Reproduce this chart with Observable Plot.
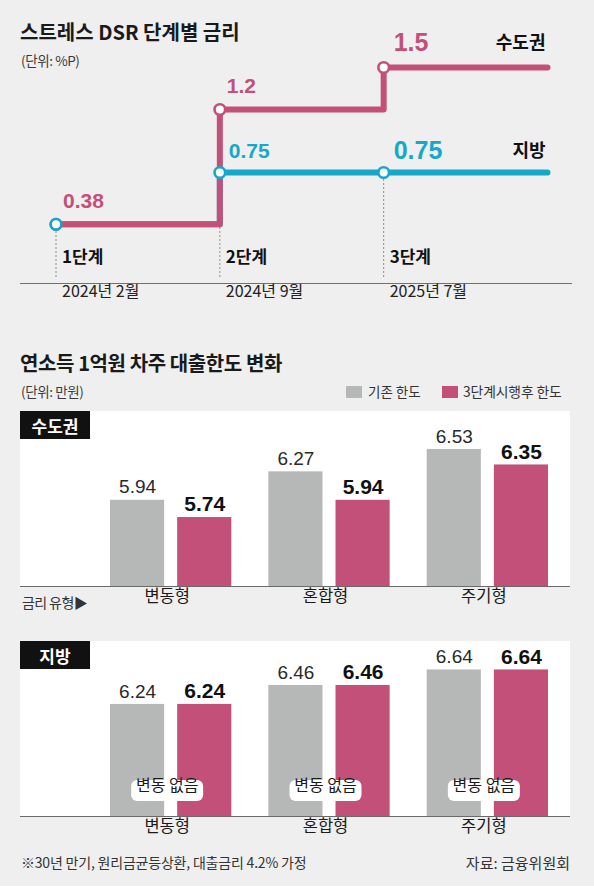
<!DOCTYPE html>
<html>
<head>
<meta charset="utf-8">
<script src="https://cdn.jsdelivr.net/npm/d3@7"></script>
<script src="https://cdn.jsdelivr.net/npm/@observablehq/plot@0.6"></script>
<style>
  body { margin: 0; background: #fff; }
  #root { position: relative; width: 594px; height: 886px; background: #efefef; overflow: hidden;
          font-family: "Noto Sans CJK KR", "Noto Sans", sans-serif; color: #1a1a1a; }
  .abs { position: absolute; }
  .mid { transform: translateY(-50%); line-height: 1; white-space: nowrap; }
  .title { font-weight: 700; font-size: 20px; }
  .unit { font-size: 13.5px; color: #3a3a3a; letter-spacing: -0.4px; }
  .panel { background: #fff; border-bottom: 1.5px solid #6a6a6a; }
  .tag { background: #111; color: #fff; font-weight: 700; font-size: 17px; display: flex;
         align-items: center; justify-content: center; line-height: 1; }
  .sw { width: 16px; height: 12px; }
  svg { position: absolute; left: 0; }
</style>
</head>
<body>
<div id="root"></div>
<script>
// ---------- data ----------
const stages = ["1단계", "2단계", "3단계"];
const stageDates = ["2024년 2월", "2024년 9월", "2025년 7월"];
const regions = ["수도권", "지방"];
const metroRate = [0.38, 1.2, 1.5];
const localRate = [0.38, 0.75, 0.75];

const loanTypes = ["변동형", "혼합형", "주기형"];
const seriesNames = ["기존 한도", "3단계시행후 한도"];
const metroBefore = [5.94, 6.27, 6.53];
const metroAfter = [5.74, 5.94, 6.35];
const localBefore = [6.24, 6.46, 6.64];
const localAfter = [6.24, 6.46, 6.64];
const localNote = ["변동 없음", "변동 없음", "변동 없음"];

const texts = {
  title1: "스트레스 DSR 단계별 금리",
  unit1: "(단위: %P)",
  title2: "연소득 1억원 차주 대출한도 변화",
  unit2: "(단위: 만원)",
  axisName: "금리 유형▶",
  note: "※30년 만기, 원리금균등상환, 대출금리 4.2% 가정",
  source: "자료: 금융위원회"
};

// ---------- styles ----------
const PINK = "#c35079", BLUE = "#15a8cb", GRAY = "#b6b7b7";
const NUM = '"Liberation Sans Narrow","Liberation Sans","Noto Sans CJK KR",sans-serif';
const KR = '"Noto Sans CJK KR","Noto Sans",sans-serif';

const root = document.getElementById("root");
function add(html, cls, css) {
  const el = document.createElement("div");
  el.className = "abs " + cls;
  el.innerHTML = html;
  Object.assign(el.style, css);
  root.appendChild(el);
  return el;
}

// ---------- step chart ----------
const stagePts = stages.map((s, i) => ({i, stage: s, date: stageDates[i], metro: metroRate[i], local: localRate[i]}));
const n = stages.length;
const metroLine = [...stagePts.map(d => ({x: d.i, v: d.metro})), {x: n, v: metroRate[n - 1]}];
const localLine = [...stagePts.map(d => ({x: d.i, v: d.local})), {x: n, v: localRate[n - 1]}];
const ends = [{name: regions[0], v: metroRate[n - 1], c: "m"}, {name: regions[1], v: localRate[n - 1], c: "l"}];

add(texts.title1, "mid title", {left: "20px", top: "32px"});
add(texts.unit1, "mid unit", {left: "21px", top: "61px"});
add("", "", {left: "20px", top: "283px", width: "552px", height: "1px", background: "#707070"});

const step = Plot.plot({
  width: 594, height: 312,
  marginTop: 0, marginBottom: 29, marginLeft: 0, marginRight: 0,
  x: {domain: [0, n], range: [55.5, 547], axis: null},
  y: {domain: [0, 1.5], range: [277, 67], axis: null},
  style: {background: "transparent", overflow: "visible", fontFamily: KR, color: "#1a1a1a"},
  marks: [
    Plot.ruleX(stagePts, {x: "i", y1: "local", stroke: "#8c8c8c", strokeWidth: 1, strokeDasharray: "2,2"}),
    Plot.line(localLine, {x: "x", y: "v", curve: "step-after", stroke: BLUE, strokeWidth: 6, strokeLinecap: "round"}),
    Plot.line(metroLine, {x: "x", y: "v", curve: "step-after", stroke: PINK, strokeWidth: 6, strokeLinecap: "round"}),
    Plot.dot(stagePts, {x: "i", y: "metro", r: 5.3, fill: "white", stroke: PINK, strokeWidth: 2.6}),
    Plot.dot(stagePts, {x: "i", y: "local", r: 5.3, fill: "white", stroke: BLUE, strokeWidth: 2.6}),
    // value labels
    Plot.text(stagePts, {filter: d => d.i < n - 1, x: "i", y: "metro", text: d => String(d.metro),
      dx: 7, dy: -23, textAnchor: "start", fill: PINK, fontWeight: 700, fontSize: 21, fontFamily: NUM}),
    Plot.text(stagePts, {filter: d => d.i === n - 1, x: "i", y: "metro", text: d => String(d.metro),
      dx: 10, dy: -25, textAnchor: "start", fill: PINK, fontWeight: 700, fontSize: 25, fontFamily: NUM}),
    Plot.text(stagePts, {filter: d => d.i > 0 && d.i < n - 1, x: "i", y: "local", text: d => String(d.local),
      dx: 9, dy: -21, textAnchor: "start", fill: BLUE, fontWeight: 700, fontSize: 21, fontFamily: NUM}),
    Plot.text(stagePts, {filter: d => d.i === n - 1, x: "i", y: "local", text: d => String(d.local),
      dx: 10, dy: -22, textAnchor: "start", fill: BLUE, fontWeight: 700, fontSize: 25, fontFamily: NUM}),
    // series names
    Plot.text(ends, {filter: d => d.c === "m", x: () => n, y: "v", text: "name", textAnchor: "end", dx: -2,
      dy: -24, fill: "#111", fontWeight: 700, fontSize: 18, fontFamily: KR}),
    Plot.text(ends, {filter: d => d.c === "l", x: () => n, y: "v", text: "name", textAnchor: "end", dx: -2,
      dy: -21, fill: "#111", fontWeight: 700, fontSize: 18, fontFamily: KR}),
    // stage & date labels
    Plot.text(stagePts, {x: "i", text: "stage", frameAnchor: "bottom", dx: 6, dy: -21, textAnchor: "start",
      fontWeight: 700, fontSize: 17, fill: "#111", fontFamily: KR}),
    Plot.text(stagePts, {x: "i", text: "date", frameAnchor: "bottom", dx: 6, dy: 13, textAnchor: "start",
      fontSize: 16, fill: "#222", fontFamily: KR})
  ]
});
step.style.top = "0px";
root.appendChild(step);

// ---------- bar panels ----------
add(texts.title2, "mid title", {left: "20px", top: "363px", letterSpacing: "-0.4px"});
add(texts.unit2, "mid unit", {left: "21px", top: "392px"});
add("", "sw", {left: "346px", top: "386px", background: GRAY});
add(seriesNames[0], "mid", {left: "368px", top: "392px", fontSize: "13.5px", color: "#333"});
add("", "sw", {left: "442px", top: "386px", background: PINK});
add(seriesNames[1], "mid", {left: "463px", top: "392px", fontSize: "13.8px", color: "#333", letterSpacing: "-0.1px"});

const pill = {
  draw(ctx) {
    const w = 36, h = 10.5, r = 6;
    ctx.moveTo(-w + r, -h); ctx.lineTo(w - r, -h); ctx.arcTo(w, -h, w, -h + r, r);
    ctx.lineTo(w, h - r); ctx.arcTo(w, h, w - r, h, r);
    ctx.lineTo(-w + r, h); ctx.arcTo(-w, h, -w, h - r, r);
    ctx.lineTo(-w, -h + r); ctx.arcTo(-w, -h, -w + r, -h, r); ctx.closePath();
  }
};

function barPanel(top, region, before, after, notes, showAxisName) {
  add("", "panel", {left: "20px", top: top + "px", width: "550px", height: "175px"});
  add(region, "tag", {left: "20px", top: top + "px", width: "70px", height: "28px"});
  if (showAxisName) add(texts.axisName, "mid", {left: "22px", top: (top + 191) + "px", fontSize: "14px", letterSpacing: "-0.6px", color: "#333"});
  const rows = loanTypes.flatMap((t, i) => [
    {type: t, series: seriesNames[0], v: before[i]},
    {type: t, series: seriesNames[1], v: after[i]}
  ]);
  const marks = [
    Plot.barY(rows, {fx: "type", x: "series", y: "v", fill: "series"}),
    Plot.text(rows, {filter: d => d.series === seriesNames[0], fx: "type", x: "series", y: "v",
      text: d => d.v.toFixed(2), dy: -13, fontSize: 19, fill: "#2a2a2a", fontFamily: NUM}),
    Plot.text(rows, {filter: d => d.series === seriesNames[1], fx: "type", x: "series", y: "v",
      text: d => d.v.toFixed(2), dy: -13, fontSize: 21, fontWeight: 700, fill: "#111", fontFamily: NUM}),
    Plot.text(loanTypes, {fx: d => d, x: null, y: null, text: d => d, frameAnchor: "bottom", dy: 15, dx: -4,
      fontSize: 16.5, fill: "#1a1a1a", fontFamily: KR})
  ];
  if (notes) {
    const nt = loanTypes.map((t, i) => ({type: t, note: notes[i]}));
    marks.push(
      Plot.dot(nt, {fx: "type", x: null, y: null, frameAnchor: "bottom", dy: -26, dx: -4, symbol: pill, fill: "white", stroke: "none"}),
      Plot.text(nt, {fx: "type", x: null, y: null, text: "note", frameAnchor: "bottom", dy: -26, dx: -4,
        fontSize: 16, fill: "#1a1a1a", fontFamily: KR})
    );
  }
  const p = Plot.plot({
    width: 594, height: 212,
    marginTop: 0, marginBottom: 37, marginLeft: 110, marginRight: 46,
    fx: {domain: loanTypes, paddingInner: 0.234, paddingOuter: 0, round: false, axis: null, label: null},
    x: {domain: seriesNames, paddingInner: 0.194, paddingOuter: 0, round: false, axis: null},
    y: {domain: [4.94, 6.97], clamp: true, axis: null},
    color: {domain: seriesNames, range: [GRAY, PINK]},
    style: {background: "transparent", overflow: "visible", fontFamily: KR, color: "#1a1a1a"},
    marks
  });
  p.style.top = top + "px";
  root.appendChild(p);
}

barPanel(411, regions[0], metroBefore, metroAfter, null, true);
barPanel(641, regions[1], localBefore, localAfter, localNote, false);

add(texts.note, "mid", {left: "21px", top: "862px", fontSize: "14px", color: "#333", letterSpacing: "-0.2px"});
add(texts.source, "mid", {right: "24px", top: "862px", fontSize: "15px", color: "#333"});
</script>
</body>
</html>
